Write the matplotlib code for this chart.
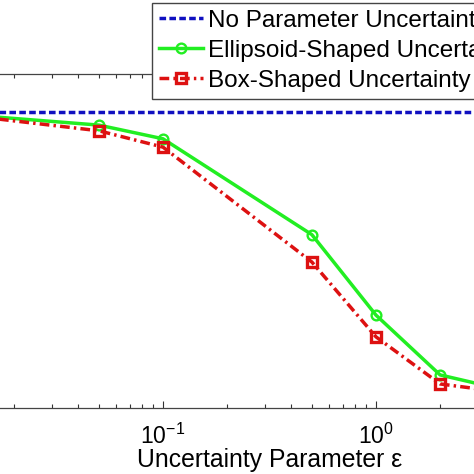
import numpy as np
import matplotlib
matplotlib.use("Agg")
import matplotlib.pyplot as plt

plt.rcParams['font.family'] = ['Liberation Sans', 'DejaVu Sans']
plt.rcParams['mathtext.fontset'] = 'custom'
plt.rcParams['mathtext.rm'] = 'Liberation Sans'
plt.rcParams['mathtext.it'] = 'Liberation Sans:italic'
plt.rcParams['axes.unicode_minus'] = False

# uncertainty parameter epsilon
eps = [0.01, 0.05, 0.1, 0.5, 1, 2, 5]
# normalized performance (y axis labels are outside the visible crop)
no_unc = [0.887] * len(eps)
ellipsoid = [0.882, 0.847, 0.806, 0.519, 0.278, 0.099, 0.040]
box = [0.882, 0.830, 0.781, 0.437, 0.213, 0.072, 0.039]
labels = ['No Parameter Uncertainty', 'Ellipsoid-Shaped Uncertainty', 'Box-Shaped Uncertainty']

W = 474.0
fig = plt.figure(figsize=(4.74, 4.74), dpi=100)
ax = fig.add_axes([-50 / W, 66 / W, 639 / W, 334 / W])

l1, = ax.plot(eps, no_unc, color='#1010c0', lw=2.5, dashes=(1.9, 0.95))
l2, = ax.plot(eps, ellipsoid, color='#22ee22', lw=2.5, marker='o', ms=7,
              mfc='none', mew=1.7)
l3, = ax.plot(eps, box, color='#dd1111', lw=2.5, marker='s', ms=6.5,
              mfc='none', mew=2.4, dashes=(2.8, 1.2, 0.7, 1.2))

ax.set_xscale('log')
ax.set_xlim(0.01, 10)
ax.set_ylim(0, 1)
ax.set_yticks([])
ax.tick_params(which='both', direction='in', top=True, right=True,
               colors='#333333', labelcolor='black', labelsize=16.5, pad=11)
ax.tick_params(which='major', length=5, width=0.8)
ax.tick_params(which='minor', length=3, width=0.8)
for s in ax.spines.values():
    s.set_color('#444444')
    s.set_linewidth(0.9)
ax.set_xlabel('Uncertainty Parameter ε', fontsize=17.8, labelpad=0)

leg = fig.legend([l1, l2, l3], labels, loc='upper left',
                 bbox_to_anchor=(152 / W, 1 - 2.5 / W), borderaxespad=0,
                 fontsize=17.5, handlelength=1.8, handletextpad=0.2,
                 borderpad=0.3, labelspacing=0.33, fancybox=False,
                 framealpha=1, edgecolor='#444444')
leg.get_frame().set_linewidth(1.0)

fig.savefig('out.png', dpi=100)
